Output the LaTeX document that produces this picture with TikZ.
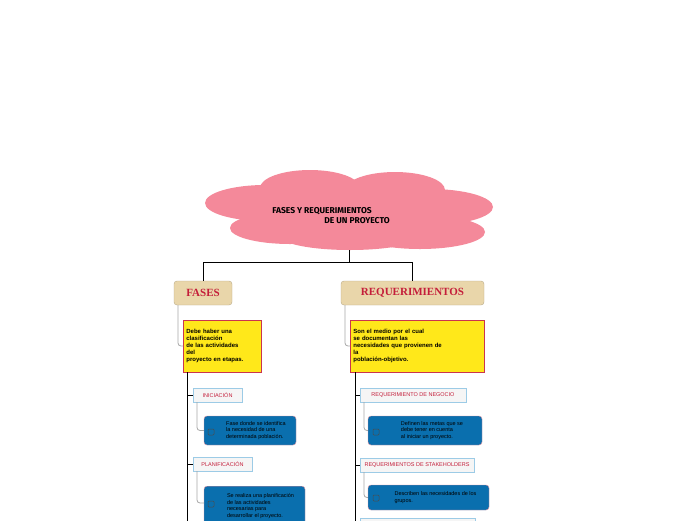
\documentclass[tikz,border=0pt]{standalone}
\usepackage{fontspec}
\setmainfont{Liberation Serif}
\newfontfamily\sans{Liberation Sans}
\newfontfamily\titlefont{Fira Sans}
\definecolor{cloudc}{HTML}{F4899A}
\definecolor{tan}{HTML}{E9D6AA}
\definecolor{crim}{HTML}{C41E3A}
\definecolor{yel}{HTML}{FFE81A}
\definecolor{blu}{HTML}{0A6FAE}
\definecolor{lb}{HTML}{9CCBE6}
\begin{document}
\begin{tikzpicture}[x=1pt,y=-1pt,
 mainbox/.style={draw=tan!80!black,fill=tan,rounded corners=3pt,font=\bfseries\color{crim},inner sep=0pt},
 yelbox/.style={draw=crim!90,fill=yel,line width=0.8pt,font=\sans\bfseries\fontsize{6}{7}\selectfont,align=left,anchor=north west,text width=#1,inner sep=3pt},
 subbox/.style={draw=lb,fill=gray!8,font=\sans\fontsize{5.5}{6}\selectfont\color{crim},inner sep=0pt},
 blubox/.style={draw=crim!50,fill=blu,rounded corners=3pt,font=\sans\fontsize{5.5}{6.5}\selectfont,align=left,inner sep=0pt},
 gl/.style={draw=gray!70,line width=0.8pt},
 bl/.style={draw=black,line width=1pt}]
\useasboundingbox (0,0) rectangle (696,520);
% cloud
\begin{scope}[fill=cloudc]
\fill (265,203) ellipse (60 and 18);
\fill (430,207) ellipse (63 and 18);
\fill (310,188) ellipse (50 and 18);
\fill (395,190) ellipse (50 and 18);
\fill (290,228) ellipse (60 and 16);
\fill (420,232) ellipse (65 and 17);
\fill (350,236) ellipse (70 and 14);
\fill (350,210) ellipse (110 and 28);
\end{scope}
\node[font=\titlefont\bfseries\fontsize{8.5}{10}\selectfont,align=left,inner sep=0pt] (title) at (331,216) {FASES Y REQUERIMIENTOS\\\hspace*{52pt}DE UN PROYECTO};
\coordinate (cb) at (349,250);
% main boxes
\node[mainbox,minimum width=58pt,minimum height=24pt,font=\bfseries\fontsize{11}{12}\selectfont\color{crim}] (fases) at (203,293) {FASES};
\node[mainbox,minimum width=143pt,minimum height=24pt,font=\bfseries\fontsize{11}{12}\selectfont\color{crim}] (req) at (412.5,293) {REQUERIMIENTOS};
\draw[bl] (cb) -- (349,262) -| (fases.north);
\draw[bl] (349,262) -| (req.north);
% yellow boxes
\node[yelbox=72pt,minimum height=52pt] (y1) at (183,320) {Debe haber una\\clasificación\\de las actividades\\del\\proyecto en etapas.};
\node[yelbox=128pt,minimum height=52pt] (y2) at (350,320) {Son el medio por el cual\\se documentan las\\necesidades que provienen de\\la\\población-objetivo.};
\draw[gl,rounded corners=3pt] (178,305) |- (y1.west|-0,346);
\draw[gl,rounded corners=3pt] (345,305) |- (y2.west|-0,346);
% left column
\node[subbox,minimum width=49pt,minimum height=14pt] (ini) at (217.5,395) {INICIACIÓN};
\node[blubox,minimum width=92pt,minimum height=29pt] (b1) at (250,430.5) {\hspace*{12pt}Fase donde se identifica\\\hspace*{12pt}la necesidad de una\\\hspace*{12pt}determinada población.};
\node[subbox,minimum width=59pt,minimum height=14pt] (pla) at (222.5,464) {PLANIFICACIÓN};
\node[blubox,minimum width=101pt,minimum height=40pt,anchor=north] (b2) at (254.5,486) {\hspace*{12pt}Se realiza una planificación\\\hspace*{12pt}de las actividades\\\hspace*{12pt}necesarias para\\\hspace*{12pt}desarrollar el proyecto.};
\draw[bl] (187,372) -- (187,521);
\draw[bl] (187,395) -- (ini.west);
\draw[bl] (187,464) -- (pla.west);
\draw[gl,rounded corners=3pt] (197,402) |- (b1.west);
\draw[gl,rounded corners=3pt] (197,471) |- (204,503);
% right column
\node[subbox,minimum width=106pt,minimum height=14pt] (neg) at (413,395) {REQUERIMIENTO DE NEGOCIO};
\node[blubox,minimum width=114pt,minimum height=29pt] (b3) at (425,430.5) {\hspace*{14pt}Definen las metas que se\\\hspace*{14pt}debe tener en cuenta\\\hspace*{14pt}al iniciar un proyecto.};
\node[subbox,minimum width=114pt,minimum height=14pt] (stk) at (417,465) {REQUERIMIENTOS DE STAKEHOLDERS};
\node[blubox,minimum width=121pt,minimum height=25pt] (b4) at (428.5,497.5) {\hspace*{14pt}Describen las necesidades de los\\\hspace*{14pt}grupos.};
\node[subbox,minimum width=115pt,minimum height=14pt,anchor=north] (nx) at (417.5,518) {};
\draw[bl] (355,372) -- (355,521);
\draw[bl] (355,395) -- (neg.west);
\draw[bl] (355,465) -- (stk.west);
\draw[gl,rounded corners=3pt] (364,402) |- (b3.west);
\draw[gl,rounded corners=3pt] (364,472) |- (b4.west);
% checkboxes
\foreach \p in {(211,432),(211,504),(376,432),(376,498)}
 \draw[black!70,rounded corners=1pt,line width=0.5pt] \p ++(-3,-3) rectangle ++(6,6);
\end{tikzpicture}
\end{document}
